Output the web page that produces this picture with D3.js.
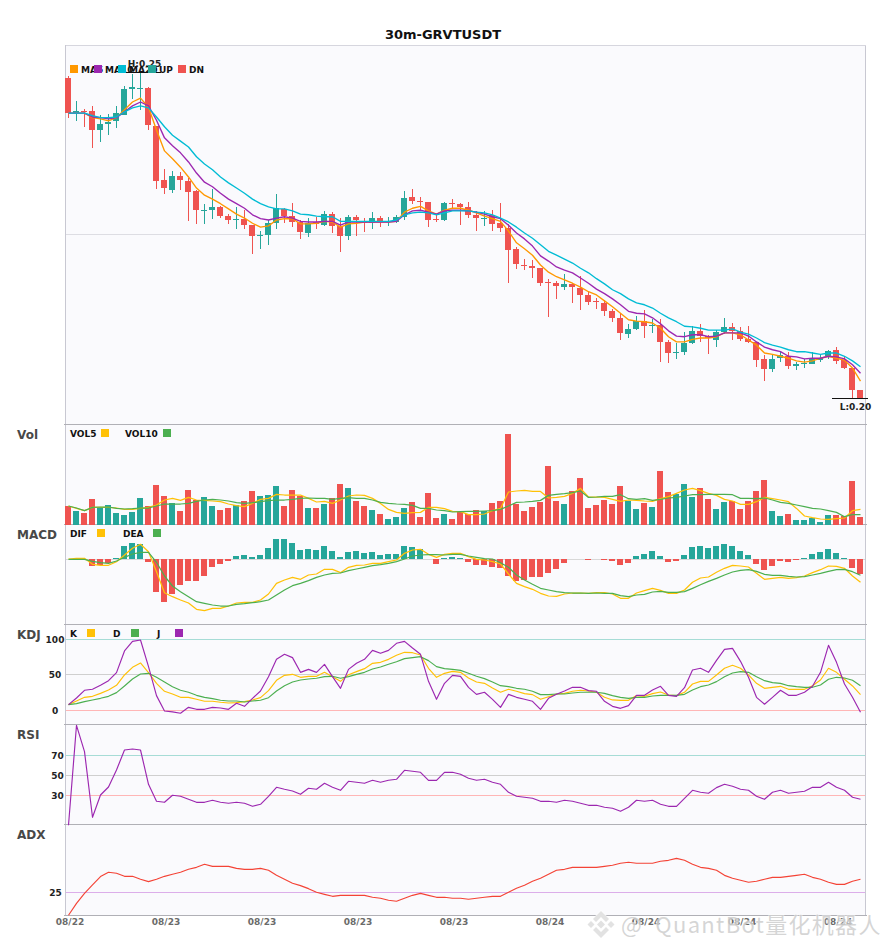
<!DOCTYPE html>
<html><head><meta charset="utf-8">
<style>
html,body{margin:0;padding:0;background:#fff}
svg{display:block;font-family:"DejaVu Sans",sans-serif}
</style>
<script src="https://cdn.jsdelivr.net/npm/d3@7/dist/d3.min.js"></script>
</head><body><svg id="c" width="885" height="950"></svg>
<script>
// prices are in units of 0.0001 USDT
const candleOpen=[2491,2437,2440,2440,2411,2420,2425,2434,2474,2474,2476,2417,2334,2319,2341,2333,2318,2287,2288,2293,2279,2273,2275,2265,2248,2250,2268,2290,2279,2270,2253,2270,2265,2282,2264,2248,2278,2272,2268,2276,2270,2270,2278,2308,2302,2301,2275,2273,2299,2298,2293,2281,2275,2281,2268,2261,2229,2204,2202,2199,2178,2176,2170,2175,2169,2158,2149,2146,2133,2123,2098,2106,2118,2110,2112,2086,2069,2071,2084,2103,2095,2089,2101,2109,2103,2090,2086,2060,2044,2061,2064,2049,2052,2052,2058,2063,2074,2058,2046,2012];
const candleClose=[2437,2440,2439,2411,2420,2423,2437,2474,2477,2476,2419,2333,2322,2341,2334,2316,2288,2288,2293,2279,2273,2275,2265,2248,2250,2268,2291,2279,2270,2255,2268,2267,2282,2264,2248,2278,2273,2268,2276,2272,2272,2278,2307,2302,2301,2273,2273,2299,2298,2293,2281,2276,2276,2267,2261,2227,2206,2202,2199,2176,2176,2172,2175,2170,2158,2147,2147,2133,2123,2100,2106,2118,2110,2112,2086,2069,2071,2084,2103,2095,2092,2101,2109,2103,2090,2086,2058,2044,2060,2066,2049,2052,2054,2060,2061,2072,2057,2046,2012,2000];
const candleHigh=[2494,2456,2443,2448,2434,2436,2448,2479,2497,2500,2477,2417,2351,2348,2347,2337,2319,2298,2321,2295,2282,2293,2288,2265,2256,2273,2313,2291,2299,2273,2276,2278,2287,2285,2276,2281,2281,2276,2285,2279,2278,2281,2318,2321,2308,2301,2282,2301,2305,2299,2301,2287,2287,2288,2299,2267,2232,2213,2212,2199,2183,2179,2190,2176,2187,2164,2153,2150,2136,2130,2114,2126,2135,2121,2121,2089,2084,2101,2110,2114,2097,2104,2123,2115,2109,2110,2086,2066,2066,2072,2071,2055,2060,2071,2066,2074,2078,2063,2046,2012];
const candleLow=[2430,2425,2416,2384,2393,2403,2414,2434,2459,2442,2411,2321,2313,2314,2319,2271,2267,2267,2275,2276,2267,2259,2259,2221,2229,2235,2259,2268,2262,2244,2247,2259,2264,2253,2224,2242,2248,2255,2259,2262,2264,2268,2273,2298,2288,2262,2270,2271,2290,2265,2276,2256,2264,2256,2255,2176,2198,2196,2184,2172,2124,2152,2166,2146,2135,2143,2136,2126,2117,2089,2092,2104,2092,2100,2055,2054,2060,2066,2083,2086,2067,2078,2098,2089,2087,2084,2048,2026,2040,2055,2044,2043,2046,2052,2055,2060,2052,2044,2000,2000];
const maFast=[2437,2437,2437,2430,2428,2425,2430,2442,2454,2460,2446,2411,2379,2367,2354,2339,2322,2311,2305,2298,2290,2282,2276,2268,2262,2264,2273,2275,2275,2267,2267,2268,2271,2270,2262,2267,2268,2270,2270,2270,2270,2271,2285,2291,2294,2287,2282,2288,2291,2291,2288,2284,2279,2275,2271,2256,2238,2229,2219,2204,2193,2186,2181,2176,2170,2163,2158,2149,2140,2130,2120,2118,2117,2115,2107,2094,2086,2086,2090,2092,2092,2094,2100,2100,2097,2089,2081,2069,2067,2064,2061,2057,2055,2057,2061,2064,2061,2058,2046,2026];
const maMid=[2437,2437,2437,2431,2430,2428,2430,2439,2448,2454,2448,2426,2399,2387,2376,2362,2345,2331,2324,2314,2305,2298,2291,2281,2275,2273,2276,2278,2276,2271,2270,2270,2271,2271,2265,2270,2270,2270,2270,2270,2270,2271,2281,2287,2288,2285,2282,2287,2288,2288,2287,2285,2282,2278,2275,2265,2253,2244,2233,2218,2210,2201,2196,2192,2184,2176,2167,2160,2152,2143,2133,2130,2129,2123,2114,2103,2095,2094,2097,2097,2094,2095,2100,2100,2100,2095,2086,2078,2074,2071,2064,2063,2060,2061,2061,2064,2063,2060,2051,2038];
const maSlow=[2437,2437,2437,2433,2430,2430,2431,2439,2445,2448,2445,2431,2416,2403,2394,2385,2370,2359,2350,2339,2330,2322,2314,2305,2298,2293,2290,2290,2287,2282,2281,2279,2278,2278,2271,2271,2271,2271,2271,2271,2271,2273,2281,2284,2285,2284,2281,2284,2287,2287,2287,2285,2284,2281,2276,2270,2262,2253,2245,2235,2225,2219,2213,2207,2199,2192,2183,2175,2166,2160,2152,2146,2143,2138,2130,2123,2117,2110,2109,2107,2104,2104,2104,2106,2101,2098,2092,2085,2081,2078,2074,2071,2071,2069,2067,2069,2069,2064,2057,2048];
const volume=[18.7,13.7,11.7,25.7,17.3,19.7,11.7,9.7,12.7,26.7,18.7,39.7,28.7,21.7,13.7,34.7,24.7,27.7,18.7,14.7,16.7,19.7,23.7,33.7,28.7,29.7,38.7,18.7,34.7,28.7,16.7,16.7,20.7,26.7,40.7,36.7,23.7,18.7,14.7,10.7,5.7,7.7,16.7,22.7,7.7,31.7,6.7,10.7,5.7,13.7,10.7,14.7,13.7,21.7,23.7,90.7,20.7,13.7,17.7,22.7,58.7,23.7,20.7,33.7,46.7,16.7,19.7,24.7,20.7,38.7,23.7,15.7,21.7,17.7,53.7,32.7,30.7,40.7,27.7,36.7,25.7,15.7,22.7,23.7,15.7,23.7,33.7,44.7,13.7,8.7,10.7,4.7,4.7,6.7,2.7,9.7,9.7,8.7,43.7,7.7];
const vol5=[18.7,16.3,14,17.3,17.3,17.3,16.7,15.3,15.3,16.3,17.3,19.7,24.7,26.3,24.3,27.3,24.7,24.3,23.7,23,20.7,19,18,21.3,25.3,26.3,30.3,29.7,29.7,29.7,26.3,22.7,23.3,21.3,24.7,28.7,29.7,29.3,26.3,21.3,15.3,12.3,11.3,12,12.3,17.3,17.3,16,13.3,13,10,10,10.7,14,16.3,32.7,33.7,34.3,33.3,33.3,26.7,27.3,28.3,31.3,36.3,27.7,27.7,27.3,25.3,23.3,24.7,24.3,23.7,23.3,26,28,31.3,34.7,36.3,34,31.3,29.3,25.3,23.7,20.3,20.3,23,27.3,26,24.7,23,16.3,8.7,7,5.7,5.3,6,6.7,14,15.3];
const vol10=[18.7,16.7,14,17.3,17.7,17.7,16.3,15.7,16,16.7,16.7,18.7,20.7,20.7,20.7,21.3,23.3,24.7,25.3,24.7,23.7,22,21.3,22,23,24,24.7,24.7,25.3,26.3,26.7,26.3,26.3,25.3,26.3,27,26.3,26.3,24.7,22.3,21.3,20.7,20.3,19.3,16.3,16.3,14.7,14,12.7,13,13.3,13.3,13.7,14,15.3,18.7,22.3,22.7,23.3,24.3,29.3,30.3,31,32,33.7,27.3,27.7,28.3,28.3,30,26,25.3,26,24.3,25.3,26.7,27.3,28.7,30,30,30.3,30.3,30.3,30,26.3,26.3,26,26.7,24.7,22.3,21.3,19.7,18,16.3,15.7,14,12.3,8,10,10];
const macdHist=[0,0.3,0.3,-7,-6,-4,1,13,16,15,-3,-33,-43,-35,-26,-22,-22,-17,-8,-5,-2,3,4,2,4,11,20,20,16,9,10,9,13,8,2,7,8,6,7,4,5,5,13,12,10,0,-5,1,2,1,-3,-6,-6,-8,-9,-17,-22,-21,-18,-18,-14,-10,-4,0,0,-1,0,-1,-2,-6,-4,3,5,8,3,-3,-2,4,12,13,11,13,15,13,8,4,-5,-11,-7,-2,-3,-1,1,5,7,10,6,1,-9,-15];
const dif=[0,0.7,0.7,-5.3,-6.3,-6.3,-2.7,4,10.7,14.7,7.3,-12.7,-33.7,-37.7,-41,-44,-50.3,-51.7,-49.3,-49.3,-47,-44,-43.3,-43.3,-41,-35,-24.3,-21,-18.3,-20.3,-16,-15,-10.3,-10.3,-13.7,-8.3,-6.3,-6,-4.3,-4.3,-2.7,-1,5.7,9,9.7,4.7,1.7,4.7,5.7,5.7,2.3,-0.3,-1,-2.7,-5,-15,-24.3,-27.7,-30.3,-34.3,-37,-37.3,-35,-34,-34,-34.3,-33.7,-33.7,-35,-39.3,-39.3,-34,-31.7,-29.3,-31.3,-34.3,-34.3,-31,-23.3,-19,-18,-13.3,-9.3,-6.3,-7,-8,-14.3,-20.3,-19.3,-18.3,-19.3,-18.7,-17,-13.7,-10.7,-7,-7.3,-9.3,-17,-23.3];
const dea=[-0.3,-0.3,-0.3,-2.3,-3.7,-4.3,-2,1.7,5,6.7,6.7,-3.3,-17,-27,-32.7,-37.7,-42.7,-44.3,-46,-47,-47,-45.3,-44.7,-43.7,-42.7,-41,-36,-31,-26.7,-24.3,-21.7,-18.3,-16,-14.3,-14,-11.7,-10,-8.3,-6.7,-5.7,-4.3,-2.7,0,3,4,4.3,4.3,4,4.7,4.7,3,1.7,0.3,0,-3.7,-8.3,-16,-21,-25.3,-29.3,-31,-32.7,-33.7,-34,-34,-34.3,-34,-34.3,-34.3,-36.7,-37.7,-36,-35.3,-33,-32.3,-33.3,-33.3,-32.7,-29.3,-25.7,-22.3,-19.3,-16,-13,-11.3,-10.7,-12.3,-15.3,-16.3,-16.3,-17.3,-18,-17.7,-16,-14.3,-12.3,-10.7,-10.3,-12.7,-16.3];
const kdjK=[8,13.1,18.3,19.7,23.9,28.6,35.2,49.8,60.6,66.7,53.1,38,26.8,23,18.3,18.3,15.5,12.7,12.7,11.3,10.3,10.8,12.2,14.6,17.8,27.7,42.3,49.3,50.7,46.5,47.9,47.9,53.5,47.4,40.8,50.2,54.5,58.7,66.2,67.6,71.8,77.5,81.7,81.2,77.9,59.2,46.5,52.1,54.9,53.5,45.5,39.9,38,31.5,25.4,29.6,26.8,23.5,22.1,15.5,19.2,23,23.9,26.8,28.2,27.2,25.4,18.3,14.6,14.1,14.1,20.7,19.7,23.5,25.8,21.6,20.7,25.4,37.1,40.8,40.8,49.8,59.2,63.4,59.2,49.8,38,31,32.4,33.8,29.6,29.6,29.6,34.7,42.7,59.2,53.5,43.7,34.3,22.1];
const kdjD=[8,9.4,12.2,14.6,16.9,19.7,24.9,34.3,44.1,51.2,52.1,46.5,39.9,33.3,28.2,25.4,21.1,18.3,16.4,14.1,13.1,13.1,11.7,13.1,14.1,17.8,27.2,34.7,39.9,42.7,44.1,45.1,47.4,47.9,45.1,47.4,50.7,53.5,58.2,61,64.8,68.5,72.8,74.2,75.6,70,61.5,58.7,57.7,56.3,52.1,47.9,44.6,39.9,34.7,33.3,31,29.6,26.8,22.1,22.1,23,23,24.4,25.4,25.4,25.4,23.9,20.7,18.3,16.9,18.3,18.3,20.2,21.1,21.1,21.1,22.5,28.6,33.3,35.7,40.4,47.4,52.6,54.5,53.5,47.4,41.8,39,38,34.7,33.3,32.4,32.4,35.7,43.7,46.5,45.5,42.3,34.7];
const kdjJ=[8,17.4,28.2,29.6,35.2,41.8,53.1,83.6,97.2,99.1,61.5,20.7,-0.9,-2.3,-4.2,4.2,1.4,1.4,4.2,3.3,1.4,9.9,5.6,16.9,27.2,47.4,71.8,78.9,74.2,53.5,57.7,53.5,64.8,47.4,31,57.7,66.2,71.8,84.5,80.3,84.5,94.4,97.2,87.8,78.9,40.8,15.5,38,49.3,47.9,32.4,22.5,25.4,15.5,4.2,22.5,18.3,15.5,12.7,1.4,16.9,22.5,27.2,32.4,32.4,27.7,26.8,12.7,5.6,2.8,6.6,21.1,21.1,28.6,33.8,21.1,19.7,31.9,56.8,59.2,53.5,70.4,85.9,87.3,69,46.5,18.3,8.5,18.3,28.2,21.1,21.1,25.4,33.8,53.5,91.5,67.6,37.1,18.3,-2.8];
const rsi=[0,100,73.7,8,30.3,38.3,55.3,75.3,76.3,75.3,41,24,23,30,29,26,23,23,25,23,22,23,22,19,21,29,38,36,34.3,31,37,36,42,38,35,44,43,42,45,43,45,46,55,54,53,45,45,53,53,51,47,45,46,43,41,33,29,28,27,24,24,23,25,24,22,20,20,18,17,14,18,25,24,25,21,19,19,27,35,33,32,37.7,41,39,36,35,29,26,33,35,32,33,34,38,38,43,38,35,28,26];
const adx=[0,13.3,24.4,33.7,43,47.8,46.7,43.3,43.3,40,37.4,40,43.3,45.6,47.8,51.1,53.3,56.7,54.4,54.4,54.4,52.2,51.1,51.1,52.2,50,44.4,40,35.6,33,29.6,25.6,23.3,21.1,22.2,22.2,22.2,22.2,20,18.9,16.7,15.6,18.9,22.2,24.4,22.2,20,20,18.9,18.9,17.8,18.9,20,21.1,21.1,25.6,30,33.3,37.8,41.1,45.6,50,51.1,53.3,53.3,53.3,53.3,54.4,55.6,57.8,58.9,57.8,57.8,57.8,60,61.1,63.3,61.1,56.7,53.3,52.2,50,44.4,41.1,38.9,36.7,37.8,40,42.2,42.2,43.3,44.4,45.6,42.2,40,36.7,34.4,34.4,37.8,40];
const dateLabels=["08/22","08/23","08/23","08/23","08/23","08/24","08/24","08/24","08/24"];
const dateTickIndex=[0,12,24,36,48,60,72,84,96];
const kdjTicks=[100,50,0], rsiTicks=[70,50,30], adxTicks=[25];

const UP="#26A69A",DN="#EF5350",ORANGE="#FF9800",PURPLE="#9C27B0",CYAN="#00BCD4",YEL="#FFC107",GRN="#4CAF50";
const svg=d3.select("#c");
const L=65.5,R=865.5,T=45,B=915;
const n=candleOpen.length, idx=d3.range(n);
const x=d3.scalePoint().domain(idx).range([68.5,860.5]);
const yP=d3.scaleLinear().domain([2000,2500]).range([398,72]);
const yV=d3.scaleLinear().domain([0,100]).range([524.7,424.7]);
const yM=d3.scaleLinear().domain([-65.7,34.3]).range([624.7,524.7]);
const yK=d3.scaleLinear().domain([-20.7,120.2]).range([725,625]);
const yR=d3.scaleLinear().domain([0,100]).range([825.3,725.3]);
const yA=d3.scaleLinear().domain([0,100]).range([915.3,825.3]);

svg.append("text").attr("x",443).attr("y",39).attr("text-anchor","middle")
  .attr("font-size",13).attr("font-weight","bold").attr("fill","#111").text("30m-GRVTUSDT");
svg.append("rect").attr("x",L).attr("y",T).attr("width",R-L).attr("height",B-T)
  .attr("fill","#fafafd");

function hline(y,c){svg.append("line").attr("x1",L).attr("x2",R).attr("y1",y).attr("y2",y)
  .attr("stroke",c).attr("stroke-width",1).attr("shape-rendering","crispEdges");}
hline(234.5,"#dddde3");
hline(559.5,"#d8d8d8");
hline(yK(100),"#a6dcd6");hline(yK(50),"#cfcfcf");hline(yK(0),"#ffb6b6");
hline(yR(70),"#a6dcd6");hline(yR(50),"#cfcfcf");hline(yR(30),"#ffb6b6");
hline(yA(25),"#dcaeea");

// panel frame
[[L,T,L,B,"#c8c8d2"],[R,T,R,B,"#c8c8d2"],[L,T,R,T,"#d6d6de"]].forEach(a=>
 svg.append("line").attr("x1",a[0]).attr("y1",a[1]).attr("x2",a[2]).attr("y2",a[3]).attr("stroke",a[4]).attr("shape-rendering","crispEdges"));
[424.5,524.5,624.5,724.5,824.5,915.5].forEach(y=>
 svg.append("line").attr("x1",64).attr("x2",867).attr("y1",y).attr("y2",y).attr("stroke","#b0b0b6").attr("shape-rendering","crispEdges"));

const col=i=>candleClose[i]>=candleOpen[i]?UP:DN;
const crisp="crispEdges";
// candles
const gC=svg.append("g");
gC.selectAll(".w").data(idx).join("rect").attr("class","w").attr("x",i=>x(i)-.5).attr("width",1)
  .attr("y",i=>yP(candleHigh[i])).attr("height",i=>yP(candleLow[i])-yP(candleHigh[i])).attr("fill",col).attr("shape-rendering",crisp);
gC.selectAll(".b").data(idx).join("rect").attr("class","b").attr("x",i=>x(i)-3.5).attr("width",6)
  .attr("y",i=>Math.min(yP(candleOpen[i]),yP(candleClose[i])))
  .attr("height",i=>Math.max(1,Math.abs(yP(candleOpen[i])-yP(candleClose[i])))).attr("fill",col).attr("shape-rendering",crisp);

function path(vals,y,c,w){svg.append("path").datum(vals).attr("fill","none").attr("stroke",c).attr("stroke-width",w)
  .attr("stroke-linejoin","round").attr("d",d3.line().x((d,i)=>x(i)).y(d=>y(d)));}
path(maFast,yP,ORANGE,1.35);path(maMid,yP,PURPLE,1.35);path(maSlow,yP,CYAN,1.35);

// volume
svg.append("g").selectAll("rect").data(idx).join("rect").attr("x",i=>x(i)-3.5).attr("width",6)
  .attr("y",i=>yV(volume[i])).attr("height",i=>yV(0)-yV(volume[i])).attr("fill",col).attr("shape-rendering",crisp);
path(vol5,yV,YEL,1.25);path(vol10,yV,GRN,1.25);

// macd
svg.append("g").selectAll("rect").data(idx).join("rect").attr("x",i=>x(i)-3.5).attr("width",6)
  .attr("y",i=>Math.min(yM(macdHist[i]),yM(0))).attr("height",i=>Math.abs(yM(macdHist[i])-yM(0)))
  .attr("fill",i=>macdHist[i]>=0?UP:DN).attr("shape-rendering",crisp);
path(dif,yM,YEL,1.25);path(dea,yM,GRN,1.25);

// kdj, rsi, adx
path(kdjK,yK,YEL,1.15);path(kdjD,yK,GRN,1.15);path(kdjJ,yK,PURPLE,1.15);
path(rsi,yR,PURPLE,1.15);
path(adx,yA,"#F44336",1.15);

// high / low markers
const iH=d3.maxIndex(candleHigh), iL=d3.minIndex(candleLow);
svg.append("line").attr("x1",x(iH)-18).attr("x2",x(iH)+20).attr("y1",yP(2500)).attr("y2",yP(2500)).attr("stroke","#111").attr("shape-rendering",crisp);
svg.append("text").attr("x",144.5).attr("y",67).attr("text-anchor","middle").attr("font-size",9).attr("font-weight","bold").attr("fill","#222").text("H:0.25");
svg.append("line").attr("x1",832).attr("x2",868).attr("y1",yP(2000)).attr("y2",yP(2000)).attr("stroke","#111").attr("shape-rendering",crisp);
svg.append("text").attr("x",855.5).attr("y",410).attr("text-anchor","middle").attr("font-size",9).attr("font-weight","bold").attr("fill","#222").text("L:0.20");

function legend(items,y){items.forEach(d=>{
  svg.append("text").attr("x",d.tx).attr("y",y+7.5).attr("font-size",9).attr("font-weight","bold").attr("fill","#111").text(d.label);
  svg.append("rect").attr("x",d.sx).attr("y",y).attr("width",8).attr("height",8).attr("fill",d.c);});}
legend([{label:"MA5",tx:81,sx:70,c:ORANGE},{label:"MA10",tx:105,sx:94,c:PURPLE},{label:"MA20",tx:129,sx:118,c:CYAN},{label:"UP",tx:159,sx:148,c:UP},{label:"DN",tx:189,sx:178,c:DN}],65);
legend([{label:"VOL5",tx:70,sx:101,c:YEL},{label:"VOL10",tx:125,sx:163,c:GRN}],429);
legend([{label:"DIF",tx:70,sx:97,c:YEL},{label:"DEA",tx:123,sx:153,c:GRN}],529);
legend([{label:"K",tx:70,sx:87,c:YEL},{label:"D",tx:113,sx:131,c:GRN},{label:"J",tx:157,sx:175,c:PURPLE}],629);

[["Vol",439],["MACD",539],["KDJ",639],["RSI",739],["ADX",839]].forEach(a=>
  svg.append("text").attr("x",17).attr("y",a[1]).attr("font-size",12).attr("font-weight","bold").attr("fill","#484848").text(a[0]));

// value axes
function yAxis(scale,ticks,cx){const g=svg.append("g").attr("transform","translate(64,0)")
  .call(d3.axisLeft(scale).tickValues(ticks).tickSize(0).tickFormat(d3.format("d")));
  g.select(".domain").remove();
  g.selectAll("text").attr("x",cx-64).attr("dy",".32em").attr("text-anchor","middle").attr("font-size",9).attr("font-weight","bold")
   .attr("font-family","DejaVu Sans").attr("fill","#222");}
yAxis(yK,kdjTicks,55);yAxis(yR,rsiTicks,57.5);yAxis(yA,adxTicks,55.5);

// date axis
svg.append("g").selectAll("text").data(dateLabels).join("text")
  .attr("x",(d,i)=>x(dateTickIndex[i])+1.5).attr("y",925).attr("text-anchor","middle")
  .attr("font-size",9).attr("font-weight","bold").attr("fill","#6b6b6b").text(d=>d);

// watermark
const wm=svg.append("g");
const logo=wm.append("g").attr("transform","translate(601,924.5)")
  .attr("fill","#e2e2e2").attr("stroke","#fff").attr("stroke-opacity",.8).attr("stroke-width",1.2).attr("paint-order","stroke");
["M0,-4L4,0L0,4L-4,0Z","M-10,-3.5L-6.5,0L-10,3.5L-13.5,0Z","M10,-3.5L13.5,0L10,3.5L6.5,0Z",
 "M0,-13.5L8,-5.5L5,-2.5L0,-7.5L-5,-2.5L-8,-5.5Z","M0,13.5L8,5.5L5,2.5L0,7.5L-5,2.5L-8,5.5Z"]
  .forEach(p=>logo.append("path").attr("d",p));
const wmt=wm.append("text").attr("x",621).attr("y",933).attr("font-family","'Noto Sans CJK SC','DejaVu Sans',sans-serif")
  .attr("font-size",22).attr("letter-spacing",1.3).attr("fill","#c8c8c8").attr("fill-opacity",.75)
  .attr("stroke","#fff").attr("stroke-opacity",.55).attr("stroke-width",1.6).attr("paint-order","stroke");
wmt.append("tspan").text("@");
wmt.append("tspan").attr("dx",6).text(" QuantBot量化机器人");
</script></body></html>
